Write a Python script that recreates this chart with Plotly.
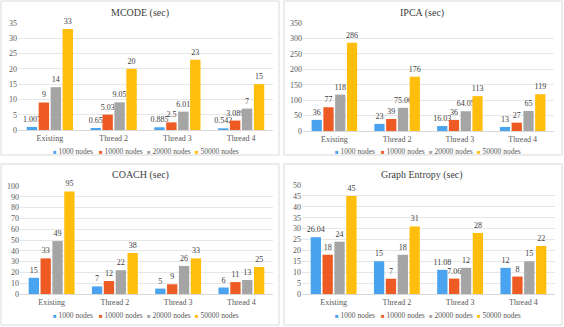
import plotly.graph_objects as go

W, H = 564, 327

categories = ["Existing", "Thread 2", "Thread 3", "Thread 4"]
series_names = ["1000 nodes", "10000 nodes", "20000 nodes", "50000 nodes"]
colors = ["#4AA3EE", "#EE5A24", "#A5A5A5", "#FFBE0B"]

mcode_1000 = [1.007, 0.65, 0.885, 0.542]
mcode_10000 = [9, 5.03, 2.5, 3.089]
mcode_20000 = [14, 9.05, 6.01, 7]
mcode_50000 = [33, 20, 23, 15]

ipca_1000 = [36, 23, 16.03, 13]
ipca_10000 = [77, 39, 36, 27]
ipca_20000 = [118, 75.06, 64.05, 65]
ipca_50000 = [286, 176, 113, 119]

coach_1000 = [15, 7, 5, 6]
coach_10000 = [33, 12, 9, 11]
coach_20000 = [49, 22, 26, 13]
coach_50000 = [95, 38, 33, 25]

entropy_1000 = [26.04, 15, 11.08, 12]
entropy_10000 = [18, 7, 7.06, 8]
entropy_20000 = [24, 18, 12, 15]
entropy_50000 = [45, 31, 28, 22]

titles = ["MCODE (sec)", "IPCA (sec)", "COACH (sec)", "Graph Entropy (sec)"]
y_max = [35, 350, 100, 50]
y_step = [5, 50, 10, 5]

panels_data = [
    [mcode_1000, mcode_10000, mcode_20000, mcode_50000],
    [ipca_1000, ipca_10000, ipca_20000, ipca_50000],
    [coach_1000, coach_10000, coach_20000, coach_50000],
    [entropy_1000, entropy_10000, entropy_20000, entropy_50000],
]

FONT = "Liberation Serif"

def px(x):
    return x / W

def py(y):
    return 1 - y / H

# panel geometry in pixels
borders = [(1, 1, 279, 155), (284, 1, 562, 155), (1, 164, 279, 325), (284, 164, 562, 325)]
plot_areas = [(18, 23, 273, 130), (303, 23, 554, 131), (20, 186, 273, 294), (302, 185, 555, 294)]
title_pos = [(140, 13), (422, 13), (140, 175), (422, 175)]
legend_pos = [(141, 152), (423, 152), (141, 315), (423, 315)]
legend_offsets = [-90, -44, 4, 52]

fig = go.Figure()

for p in range(4):
    xa = "x" if p == 0 else f"x{p+1}"
    ya = "y" if p == 0 else f"y{p+1}"
    for s in range(4):
        vals = panels_data[p][s]
        fig.add_trace(go.Bar(
            x=categories, y=vals, name=series_names[s],
            marker=dict(color=colors[s], line=dict(width=0)),
            text=[str(v) for v in vals], textposition="outside",
            textfont=dict(size=8, color="#404040", family=FONT),
            constraintext="none", cliponaxis=False,
            xaxis=xa, yaxis=ya, showlegend=False, hoverinfo="skip",
        ))

layout = dict(
    width=W, height=H, margin=dict(l=0, r=0, t=0, b=0, autoexpand=False),
    paper_bgcolor="white", plot_bgcolor="white",
    barmode="group", bargap=0.25, bargroupgap=0.13,
    font=dict(family=FONT, size=8, color="#595959"),
    showlegend=False,
    shapes=[], annotations=[],
)

for p in range(4):
    x0, y0, x1, y1 = plot_areas[p]
    sfx = "" if p == 0 else str(p + 1)
    layout["xaxis" + sfx] = dict(
        domain=[px(x0), px(x1)], anchor="y" + sfx, automargin=False,
        showgrid=False, showline=True, linecolor="#D9D9D9", linewidth=1,
        ticks="", tickfont=dict(size=8, color="#595959", family=FONT),
        fixedrange=True,
    )
    layout["yaxis" + sfx] = dict(
        domain=[py(y1), py(y0)], anchor="x" + sfx, automargin=False,
        range=[0, y_max[p]], dtick=y_step[p], tick0=0,
        showgrid=True, gridcolor="#E6E6E6", gridwidth=1,
        zeroline=False, showline=False, ticks="",
        tickfont=dict(size=8, color="#595959", family=FONT),
        fixedrange=True,
    )
    bx0, by0, bx1, by1 = borders[p]
    layout["shapes"].append(dict(
        type="rect", xref="paper", yref="paper",
        x0=px(bx0), x1=px(bx1), y0=py(by1), y1=py(by0),
        line=dict(color="#D9D9D9", width=1), fillcolor="rgba(0,0,0,0)", layer="below",
    ))
    tx, ty = title_pos[p]
    layout["annotations"].append(dict(
        text=titles[p], x=px(tx), y=py(ty), xref="paper", yref="paper",
        xanchor="center", yanchor="middle", showarrow=False,
        font=dict(size=10, color="#404040", family=FONT),
    ))
    lx, ly = legend_pos[p]
    for s in range(4):
        layout["annotations"].append(dict(
            text=f'<span style="color:{colors[s]};font-size:6px">■</span> {series_names[s]}',
            x=px(lx + legend_offsets[s]), y=py(ly), xref="paper", yref="paper",
            xanchor="left", yanchor="middle", showarrow=False,
            font=dict(size=7.5, color="#595959", family=FONT),
        ))

fig.update_layout(**layout)
fig.write_html("out.html", config={"displayModeBar": False, "staticPlot": True},
               post_script="document.body.style.margin='0';")
